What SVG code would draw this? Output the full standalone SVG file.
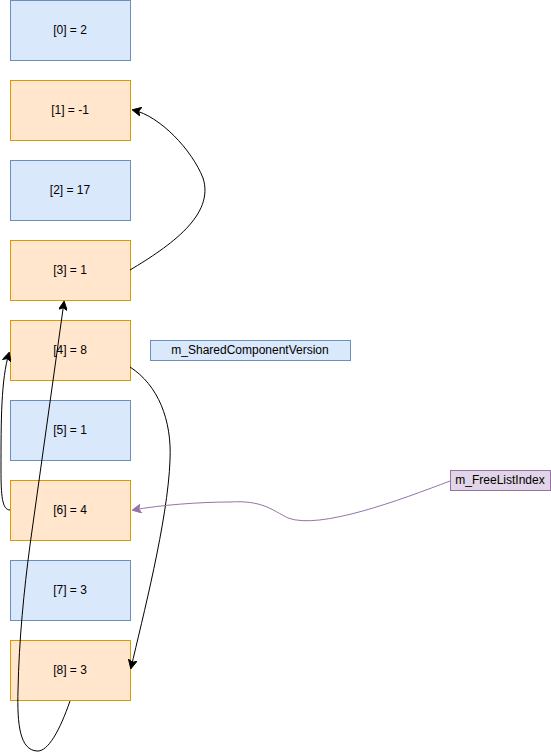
<svg xmlns="http://www.w3.org/2000/svg" width="551" height="753" viewBox="0 0 551 753">
<defs>
<style>
.blue{fill:#dae8fc;stroke:#6c8ebf;stroke-width:1}
.orange{fill:#ffe6cc;stroke:#d79b00;stroke-width:1}
.purple{fill:#e1d5e7;stroke:#9673a6;stroke-width:1}
text{font-family:"Liberation Sans",Arial,sans-serif;font-size:12px;fill:#000;text-anchor:middle;dominant-baseline:central}
.edge{fill:none;stroke:#000;stroke-width:1}
.pedge{fill:none;stroke:#9673a6;stroke-width:1}
</style>
<marker id="arr" viewBox="0 0 10 10" refX="9" refY="5" markerWidth="9" markerHeight="9" markerUnits="userSpaceOnUse" orient="auto">
<path d="M0,0 L10,5 L0,10 L2.5,5 Z" fill="#000" stroke="#000"/>
</marker>
<marker id="parr" viewBox="0 0 10 10" refX="9" refY="5" markerWidth="9" markerHeight="9" markerUnits="userSpaceOnUse" orient="auto">
<path d="M0,0 L10,5 L0,10 L2.5,5 Z" fill="#9673a6" stroke="#9673a6"/>
</marker>
</defs>
<g id="n0"><rect class="blue" x="10.5" y="0.5" width="120" height="60"/><text x="70" y="30">[0] = 2</text></g>
<g id="n1"><rect class="orange" x="10.5" y="80.5" width="120" height="60"/><text x="70" y="110">[1] = -1</text></g>
<g id="n2"><rect class="blue" x="10.5" y="160.5" width="120" height="60"/><text x="70" y="190">[2] = 17</text></g>
<g id="n3"><rect class="orange" x="10.5" y="240.5" width="120" height="60"/><text x="70" y="270">[3] = 1</text></g>
<g id="n4"><rect class="orange" x="10.5" y="320.5" width="120" height="60"/><text x="70" y="350">[4] = 8</text></g>
<g id="n5"><rect class="blue" x="10.5" y="400.5" width="120" height="60"/><text x="70" y="430">[5] = 1</text></g>
<g id="n6"><rect class="orange" x="10.5" y="480.5" width="120" height="60"/><text x="70" y="510">[6] = 4</text></g>
<g id="n7"><rect class="blue" x="10.5" y="560.5" width="120" height="60"/><text x="70" y="590">[7] = 3</text></g>
<g id="n8"><rect class="orange" x="10.5" y="640.5" width="120" height="60"/><text x="70" y="670">[8] = 3</text></g>
<g id="shared"><rect class="blue" x="150.5" y="340.5" width="200" height="20"/><text x="250" y="350">m_SharedComponentVersion</text></g>
<g id="freelist"><rect class="purple" x="450.5" y="470.5" width="100" height="20"/><text x="500" y="480">m_FreeListIndex</text></g>
<g id="connectors">
<path class="edge" d="M130,270 C170,246 215,215 203,178 C192,150 160,116 133,110" marker-end="url(#arr)"/>
<path class="edge" d="M70,701 C60,730 48,752 37,751 C20,750 17,725 18,690 C19,640 24,590 30,545 L64,302" marker-end="url(#arr)"/>
<path class="edge" d="M10,510 C2,510 1,495 1,470 C1,420 1,380 9,353" marker-end="url(#arr)"/>
<path class="edge" d="M130,367 C158,385 172,420 170,460 C168,520 142,620 131,668" marker-end="url(#arr)"/>
<path class="pedge" d="M450,481 C400,500 320,530 288,518 C272,510 262,500 230,502 C200,502 160,505 133,510" marker-end="url(#parr)"/>
</g>
</svg>
